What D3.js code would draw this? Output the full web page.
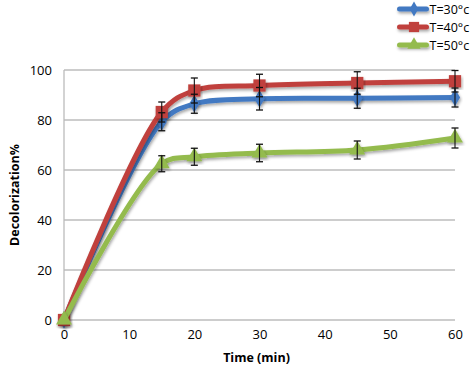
<!DOCTYPE html>
<html>
<head>
<meta charset="utf-8">
<script src="https://cdn.jsdelivr.net/npm/d3@7"></script>
<style>
  body { margin: 0; background: #fff; }
  text { font-family: "Open Sans", "Liberation Sans", sans-serif; }
</style>
</head>
<body>
<div class="chart"></div>
<script>
// data
var times = [0, 15, 20, 30, 45, 60];
var t30 = [0, 79.3, 86.5, 88.5, 88.7, 89];
var t40 = [0, 83.2, 91.8, 93.8, 94.8, 95.5];
var t50 = [0, 62.5, 65.3, 66.8, 68, 72.8];
var err30 = [0, 3.6, 3.8, 4.5, 4, 3.8];
var err40 = [0, 4, 5, 4.5, 4.5, 4.3];
var err50 = [0, 3.2, 3.4, 3.5, 3.6, 4];
var seriesNames = ["T=30°c", "T=40°c", "T=50°c"];
var xTicks = [0, 10, 20, 30, 40, 50, 60];
var yTicks = [0, 20, 40, 60, 80, 100];

var W = 474, H = 377;
var margin = {top: 70, right: 19, bottom: 57, left: 64};
var width = W - margin.left - margin.right;
var height = H - margin.top - margin.bottom;

var series = [
  {name: seriesNames[0], vals: t30, err: err30, color: "#4279c2", shape: d3.symbolDiamond, size: 90},
  {name: seriesNames[1], vals: t40, err: err40, color: "#c0413d", shape: d3.symbolSquare, size: 150},
  {name: seriesNames[2], vals: t50, err: err50, color: "#94bb4e", shape: d3.symbolTriangle, size: 110}
];

var x = d3.scaleLinear().domain([0, 60]).range([0, width]);
var y = d3.scaleLinear().domain([0, 100]).range([height, 0]);

var svg = d3.select(".chart").append("svg")
  .attr("width", W).attr("height", H);

var defs = svg.append("defs");
var f = defs.append("filter").attr("id", "shadow")
  .attr("x", "-20%").attr("y", "-20%").attr("width", "140%").attr("height", "140%");
f.append("feDropShadow").attr("dx", 1).attr("dy", 2).attr("stdDeviation", 1.5)
  .attr("flood-color", "#000").attr("flood-opacity", 0.35);
// legend bars: box given in the row's own coordinates
var f2 = defs.append("filter").attr("id", "shadow2").attr("filterUnits", "userSpaceOnUse")
  .attr("x", -10).attr("y", -10).attr("width", 60).attr("height", 22);
f2.append("feDropShadow").attr("dx", 1).attr("dy", 2).attr("stdDeviation", 1.5)
  .attr("flood-color", "#000").attr("flood-opacity", 0.35);

var g = svg.append("g").attr("transform", "translate(" + margin.left + "," + margin.top + ")");

// gridlines
g.append("g").selectAll("line").data(yTicks).enter().append("line")
  .attr("x1", 0).attr("x2", width)
  .attr("y1", d => y(d)).attr("y2", d => y(d))
  .attr("stroke", "#bcbcbc").attr("stroke-width", 1.3);

// left axis line
g.append("line").attr("x1", 0).attr("x2", 0).attr("y1", 0).attr("y2", height)
  .attr("stroke", "#bcbcbc").attr("stroke-width", 1.3);

// tick labels
var yAxis = g.append("g").call(d3.axisLeft(y).tickValues(yTicks).tickSize(0).tickPadding(12));
yAxis.select(".domain").remove();
yAxis.selectAll("text").style("font-size", "13px").attr("fill", "#000");

var xAxis = g.append("g").attr("transform", "translate(0," + height + ")")
  .call(d3.axisBottom(x).tickValues(xTicks).tickSize(0).tickPadding(10));
xAxis.select(".domain").remove();
xAxis.selectAll("text").style("font-size", "13px").attr("fill", "#000");

// axis titles
svg.append("text")
  .attr("transform", "translate(19," + (margin.top + height / 2) + ") rotate(-90)")
  .attr("text-anchor", "middle")
  .style("font-size", "12.5px").style("font-weight", "bold")
  .text("Decolorization%");

svg.append("text")
  .attr("x", margin.left + width / 2 - 3).attr("y", H - 15)
  .attr("text-anchor", "middle")
  .style("font-size", "12.5px").style("font-weight", "bold")
  .text("Time (min)");

var line = d3.line().curve(d3.curveCatmullRom.alpha(0.5))
  .x((d, i) => x(times[i])).y(d => y(d));

series.forEach(function(s) {
  var sg = g.append("g");
  sg.append("path").attr("d", line(s.vals))
    .attr("fill", "none").attr("stroke", s.color).attr("stroke-width", 5)
    .attr("filter", "url(#shadow)");
  sg.selectAll("path.mk").data(s.vals).enter().append("path")
    .attr("class", "mk")
    .attr("d", d3.symbol().type(s.shape).size(s.size))
    .attr("transform", (d, i) => "translate(" + x(times[i]) + "," + y(d) + ")")
    .attr("fill", s.color).attr("filter", "url(#shadow)");
});

// error bars
series.forEach(function(s) {
  var eg = g.append("g");
  s.vals.forEach(function(v, i) {
    if (!s.err[i]) return;
    var cx = x(times[i]);
    var y1 = y(v + s.err[i]), y2 = y(v - s.err[i]);
    eg.append("line").attr("x1", cx).attr("x2", cx).attr("y1", y1).attr("y2", y2)
      .attr("stroke", "#111").attr("stroke-width", 1.1);
    [y1, y2].forEach(function(yy) {
      eg.append("line").attr("x1", cx - 3.5).attr("x2", cx + 3.5).attr("y1", yy).attr("y2", yy)
        .attr("stroke", "#111").attr("stroke-width", 1.3);
    });
  });
});

// legend
var lg = svg.append("g").attr("transform", "translate(397,9)");
series.forEach(function(s, i) {
  var row = lg.append("g").attr("transform", "translate(0," + (i * 18) + ")");
  row.append("rect").attr("x", 0).attr("y", -2.5).attr("width", 32).attr("height", 5)
    .attr("rx", 2.5).attr("fill", s.color).attr("filter", "url(#shadow2)");
  row.append("path").attr("d", d3.symbol().type(s.shape).size(s.size * 0.7))
    .attr("transform", "translate(17,0)").attr("fill", s.color);
  row.append("text").attr("x", 32.5).attr("y", 4.5)
    .style("font-size", "12.5px").text(s.name);
});
</script>
</body>
</html>
